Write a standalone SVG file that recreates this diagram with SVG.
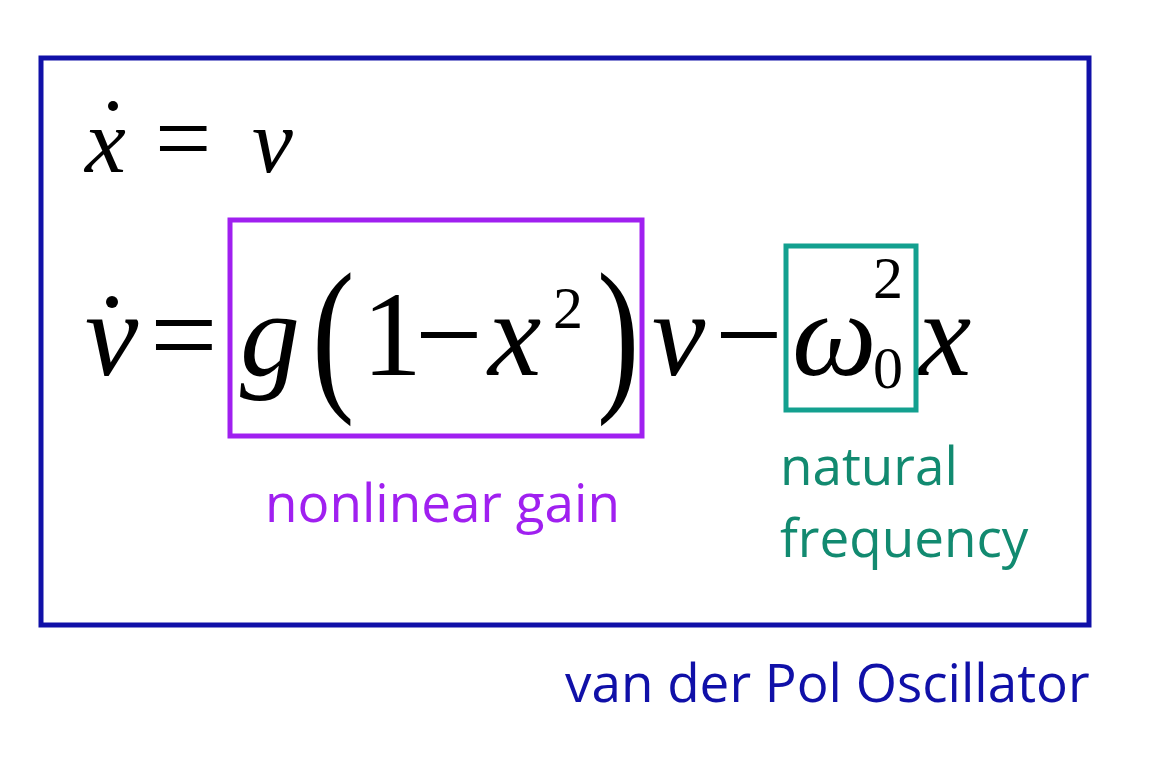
<svg xmlns="http://www.w3.org/2000/svg" width="1152" height="769" viewBox="0 0 1152 769">
<style>
.m{font-family:"Liberation Serif",serif;font-style:italic;fill:#000}
.r{font-family:"Liberation Serif",serif;fill:#000}
.s{font-family:"Open Sans","Liberation Sans",sans-serif;font-size:53px}
</style>
<rect width="1152" height="769" fill="#fff"/>
<g id="frame"><rect x="41" y="58" width="1048" height="567" fill="none" stroke="#1010a8" stroke-width="5"/></g>
<g id="eq1">
<text class="m" x="85" y="172" font-size="92">x</text>
<circle cx="113" cy="106" r="5"/>
<text class="r" x="155" y="172" font-size="100">=</text>
<text class="m" x="252" y="172" font-size="92">v</text>
</g>
<g id="eq2">
<text class="m" x="85" y="375" font-size="120">v</text>
<circle cx="112" cy="302" r="6"/>
<text class="r" x="150" y="375" font-size="120">=</text>
<text class="m" x="240" y="375" font-size="120">g</text>
<text class="r" transform="translate(312,390) scale(0.75,1)" font-size="170">(</text>
<text class="r" x="362" y="375" font-size="120">1</text>
<text class="r" x="415" y="375" font-size="120">−</text>
<text class="m" x="488" y="375" font-size="120">x</text>
<text class="r" x="553" y="328" font-size="60">2</text>
<text class="r" transform="translate(597,390) scale(0.75,1)" font-size="170">)</text>
<text class="m" x="652" y="375" font-size="120">v</text>
<text class="r" x="715" y="375" font-size="120">−</text>
<text class="m" x="792" y="375" font-size="120">ω</text>
<text class="r" x="873" y="298" font-size="60">2</text>
<text class="r" x="873" y="388" font-size="60">0</text>
<text class="m" x="918" y="375" font-size="120">x</text>
</g>
<g id="gain"><rect x="230" y="220" width="412" height="216" fill="none" stroke="#a020f0" stroke-width="5"/>
<text class="s" x="265" y="522" fill="#a020f0">nonlinear gain</text></g>
<g id="freq"><rect x="786" y="246" width="130" height="164" fill="none" stroke="#13a08f" stroke-width="5"/>
<text class="s" x="780" y="485" fill="#128a70">natural</text>
<text class="s" x="780" y="557" fill="#128a70">frequency</text></g>
<g id="title"><text class="s" x="565" y="702" fill="#1010a8">van der Pol Oscillator</text></g>
<g id="connectors"/>
</svg>
